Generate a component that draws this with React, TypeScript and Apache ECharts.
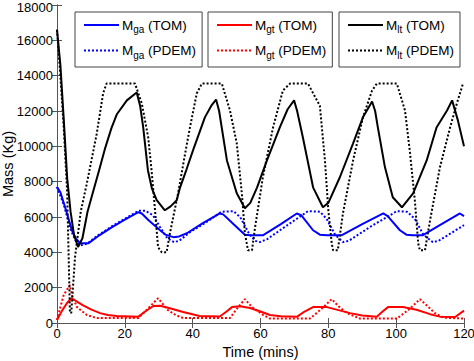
import React, { useEffect, useRef } from "react";
import * as echarts from "echarts";

const xTicks = [0, 20, 40, 60, 80, 100, 120];
const yTicks = [0, 2000, 4000, 6000, 8000, 10000, 12000, 14000, 16000, 18000];

const seriesNames = ["M_ga (TOM)", "M_ga (PDEM)", "M_gt (TOM)", "M_gt (PDEM)", "M_lt (TOM)", "M_lt (PDEM)"];

const mgaTom: number[][] = [
  [0, 7700], [1, 7400], [2.4, 6550], [4.4, 5250], [5.5, 4800], [6.8, 4520], [9.3, 4520], [12, 4900], [16, 5400],
  [20, 5850], [24, 6270], [25, 6200], [27, 5820], [30.4, 5250], [32, 5000], [34.3, 4860], [36, 4900], [38.3, 5080],
  [43, 5650], [48, 6200], [49, 6150], [52, 5600], [55.4, 5000], [57, 4970], [60.8, 4970], [66, 5600], [70.7, 6200],
  [72, 6100], [75.5, 5250], [77.5, 5000], [79.6, 4970], [84, 4970], [90, 5600], [96.2, 6200], [97.5, 6050],
  [101.1, 5250], [103, 5000], [104.7, 4970], [107.9, 4970], [113, 5550], [118.8, 6200], [120, 6050],
];
const mgaPdem: number[][] = [
  [0, 7700], [2, 6700], [4, 5300], [5.5, 4650], [7, 4400], [9, 4500], [12, 4950], [16, 5450], [20, 5900], [24, 6350],
  [26, 6350], [28.3, 6100], [30.4, 5420], [32.5, 4800], [34.5, 4580], [36, 4650], [39.2, 5140], [44, 5700],
  [48.5, 6300], [52, 6330], [54, 6000], [56.5, 5100], [58.4, 4650], [59.8, 4580], [62, 4750], [68, 5550], [74, 6330],
  [77.5, 6300], [79.5, 5900], [82, 5000], [84.3, 4580], [86, 4650], [92, 5400], [100.2, 6330], [103.2, 6300],
  [105.5, 5900], [108, 5000], [110.8, 4580], [112.5, 4650], [120, 5540],
];
const mgtTom: number[][] = [
  [0, 170], [1.5, 700], [3, 1150], [4.3, 1400], [6, 1200], [7.7, 1000], [10, 770], [12.7, 560], [15, 450],
  [17.6, 395], [24, 360], [26, 650], [28.4, 960], [30.4, 980], [33, 850], [37.2, 620], [42, 400], [48, 370],
  [50, 650], [51.6, 900], [54, 950], [56.9, 850], [60, 650], [62.8, 450], [66, 380], [70.8, 360], [73, 650],
  [75.5, 900], [79.6, 900], [83, 730], [86.4, 560], [90, 420], [94.3, 360], [96, 650], [97.6, 900], [102, 900],
  [106, 750], [110, 500], [112.9, 360], [117.4, 340], [120, 700],
];
const mgtPdem: number[][] = [
  [0, 170], [1, 900], [2, 1600], [3.8, 2150], [4.5, 1500], [5.9, 900], [8.8, 450], [11.8, 280], [24, 280],
  [27, 850], [29.8, 1400], [32.7, 730], [35, 450], [37.2, 280], [51, 280], [53, 800], [55.4, 1350], [57.5, 900],
  [60.8, 450], [62.8, 250], [74.6, 250], [78, 800], [81, 1350], [83, 950], [85.5, 560], [89.3, 250], [100.2, 250],
  [104, 800], [107, 1350], [109, 1000], [111.4, 560], [114, 300], [120, 250],
];
const mltTom: number[][] = [
  [0, 16600], [1, 14600], [2, 11500], [3, 8200], [4, 6300], [5, 5000], [6.2, 4300], [7.5, 4800], [9, 6300],
  [10.6, 7400], [12.5, 8700], [14.2, 9900], [16, 11000], [17.6, 11800], [20.6, 12600], [23.5, 13050],
  [24.5, 12300], [25.4, 11100], [26.8, 8650], [28, 7600], [29.4, 6950], [31.8, 6380], [33.5, 6600], [35.3, 6950],
  [36.3, 7680], [38.2, 8700], [40.1, 9770], [43.6, 11640], [45.5, 12300], [46.9, 12650], [47.8, 12000],
  [50.1, 9200], [53, 7340], [55.4, 6500], [57, 6800], [59, 7680], [61.9, 9200], [65.7, 11070], [68, 12100],
  [69.9, 12600], [70.8, 12000], [72.5, 10500], [75.5, 7680], [78.4, 6550], [80, 6800], [83.4, 8250],
  [87.3, 10170], [90.2, 11640], [92.9, 12540], [93.8, 12000], [94.6, 11070], [96.7, 8810], [99, 7120],
  [101.7, 6550], [105, 7340], [109, 9200], [111.9, 11070], [115, 12030], [116.5, 12600], [118.2, 11470],
  [120, 10000],
];
const mltPdem: number[][] = [
  [0, 16600], [1, 14000], [2, 11000], [3, 7400], [3.8, 700], [4.2, 550], [5.3, 3700], [7, 6300], [8.8, 7900],
  [11.7, 10700], [13.6, 13000], [14.6, 13550], [23, 13550], [25, 12430], [26.9, 10500], [27.9, 8600],
  [28.9, 6380], [29.8, 4290], [30.9, 4000], [32.3, 4000], [33.3, 5080], [35.7, 7340], [37.5, 9300],
  [39.2, 11070], [41.2, 12990], [42.7, 13550], [48.6, 13550], [51, 12030], [53, 10170], [54.5, 7340],
  [55.4, 5080], [56.3, 4120], [57.5, 4120], [58.4, 5420], [60.7, 8250], [63.7, 11070], [66.6, 13160],
  [68.7, 13550], [74, 13550], [77.5, 12300], [79, 9200], [80, 6380], [81, 4500], [81.4, 4120], [82.8, 4120],
  [84.3, 6200], [87.3, 9200], [90.2, 11640], [92.9, 13160], [94.3, 13550], [100.2, 13550], [102.6, 12030],
  [104, 9770], [105.5, 6950], [106.5, 4500], [107, 4120], [108.5, 4120], [110, 5820], [112.9, 8810],
  [115.9, 11070], [117.9, 12430], [119.7, 13550], [120, 13550],
];

const seriesData = [mgaTom, mgaPdem, mgtTom, mgtPdem, mltTom, mltPdem];
const seriesColors = ["#0000ff", "#0000ff", "#ff0000", "#ff0000", "#000000", "#000000"];
const seriesDotted = [false, true, false, true, false, true];

const FONT = "Liberation Sans, Arial, Helvetica, sans-serif";

export default function App() {
  const ref = useRef<HTMLDivElement>(null);
  useEffect(() => {
    if (!ref.current) return;
    const chart = echarts.init(ref.current, null, { renderer: "svg" });
    const axisColor = "#555";
    const yMax = yTicks[yTicks.length - 1];
    const legendBase = (left: number, names: string[]) => ({
      show: true,
      left,
      top: 12,
      orient: "vertical",
      data: names,
      itemWidth: 35,
      itemHeight: 14,
      itemGap: 9,
      padding: [6, 6, 7, 8],
      borderColor: "#444",
      borderWidth: 1,
      backgroundColor: "#fff",
      itemStyle: { opacity: 0 },
      formatter: (name: string) => name.replace(/^M_(\w+) /, "M{s|$1} "),
      textStyle: {
        fontFamily: FONT,
        fontSize: 13.5,
        color: "#000",
        padding: [0, 0, 0, -2],
        rich: {
          s: { fontFamily: FONT, fontSize: 10, color: "#000", padding: [9, 0, 0, 0] },
        },
      },
    });
    chart.setOption({
      animation: false,
      backgroundColor: "#fff",
      grid: { left: 57, top: 5, width: 407, height: 318, containLabel: false, outerBoundsMode: "none" },
      legend: [
        legendBase(75, seriesNames.slice(0, 2)),
        legendBase(208, seriesNames.slice(2, 4)),
        legendBase(339, seriesNames.slice(4, 6)),
      ],
      xAxis: [
        {
          type: "value",
          min: xTicks[0],
          max: xTicks[xTicks.length - 1],
          interval: 20,
          name: "Time (mins)",
          nameLocation: "middle",
          nameGap: 21,
          nameMoveOverlap: false,
          nameTextStyle: { fontFamily: FONT, fontSize: 14.5, color: "#000" },
          axisLine: { show: true, lineStyle: { color: axisColor, width: 1 } },
          axisTick: { show: true, inside: true, length: 5, lineStyle: { color: axisColor } },
          axisLabel: { fontFamily: FONT, fontSize: 13, color: "#000", margin: 4, formatter: (v: number) => String(v) },
          splitLine: { show: false },
        },
        {
          type: "value",
          position: "top",
          min: xTicks[0],
          max: xTicks[xTicks.length - 1],
          interval: 20,
          axisLine: { show: true, lineStyle: { color: axisColor, width: 1 } },
          axisTick: { show: true, inside: true, length: 5, lineStyle: { color: axisColor } },
          axisLabel: { show: false },
          splitLine: { show: false },
        },
      ],
      yAxis: [
        {
          type: "value",
          min: yTicks[0],
          max: yMax,
          interval: 2000,
          name: "Mass (Kg)",
          nameLocation: "middle",
          nameGap: 42,
          nameMoveOverlap: false,
          nameTextStyle: { fontFamily: FONT, fontSize: 14.5, color: "#000" },
          axisLine: { show: true, lineStyle: { color: axisColor, width: 1 } },
          axisTick: { show: true, inside: true, length: 5, lineStyle: { color: axisColor } },
          axisLabel: {
            fontFamily: FONT,
            fontSize: 13,
            color: "#000",
            margin: 4,
            formatter: (v: number) => (v === yMax ? "{t|" + v + "}" : String(v)),
            rich: { t: { fontFamily: FONT, fontSize: 13, color: "#000", padding: [5, 0, 0, 0] } },
          },
          splitLine: { show: false },
        },
        {
          type: "value",
          position: "right",
          min: yTicks[0],
          max: yMax,
          interval: 2000,
          axisLine: { show: true, lineStyle: { color: axisColor, width: 1 } },
          axisTick: { show: true, inside: true, length: 5, lineStyle: { color: axisColor } },
          axisLabel: { show: false },
          splitLine: { show: false },
        },
      ],
      series: seriesNames.map((name, i) => ({
        name,
        type: "line",
        data: seriesData[i],
        symbol: "none",
        showSymbol: false,
        color: seriesColors[i],
        lineStyle: {
          color: seriesColors[i],
          width: 2,
          type: seriesDotted[i] ? [2, 2] : "solid",
        },
        z: 2 + i,
      })),
    });
    return () => chart.dispose();
  }, []);
  return (
    <div
      ref={ref}
      style={{ position: "fixed", left: 0, top: 0, width: 474, height: 361, background: "#fff" }}
    />
  );
}
